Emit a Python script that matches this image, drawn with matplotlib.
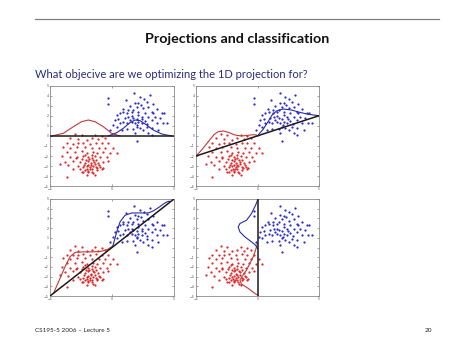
import matplotlib
matplotlib.use("Agg")
import matplotlib.pyplot as plt
import numpy as np

# ---- data ----
blue_x = [-0.30, -0.30, 1.80, 2.26, 2.58, 3.06, 1.13, 0.86, 1.85, 1.99, 1.45, 0.65, 0.91, 1.24,
          1.59, 2.12, 2.53, 2.93, 3.33, 3.60, 4.01, 4.19, 0.24, 0.51, 0.65, 0.91, 1.18, 1.45,
          1.72, 1.99, 2.12, 2.39, 2.66, 2.93, 3.20, 3.47, 3.87, 4.41, 0.11, 0.38, 0.78, 1.18,
          1.72, 1.99, 2.26, 2.53, 2.80, 3.20, 3.60, 3.74, -0.16, 1.85, 2.93, 3.20, 1.99, 1.59,
          1.85, 2.12, 2.39, 2.66, 1.32, 1.05, 3.33, 2.12, 2.31, 2.80, 3.20, 4.14, 0.38, 1.72,
          2.45, 1.60, 2.05, 2.85, 1.30]
blue_y = [3.77, 3.20, 4.27, 3.87, 3.67, 4.10, 3.60, 2.67, 3.33, 2.93, 3.00, 2.27, 2.43, 2.27,
          2.43, 2.43, 2.77, 2.93, 3.20, 2.67, 2.27, 2.33, 1.60, 1.67, 1.27, 1.43, 1.33, 1.60,
          1.77, 1.67, 1.43, 1.33, 1.53, 1.87, 1.60, 1.93, 1.77, 1.27, 1.10, 0.93, 0.60, 0.67,
          0.67, 0.93, 0.77, 0.60, 0.87, 0.77, 1.27, 0.60, 0.60, 0.27, 0.27, 0.10, -0.47, 1.43,
          1.27, 2.10, 1.93, 2.27, 1.93, 1.77, 2.27, 3.27, 3.10, 3.43, 2.43, 1.27, 2.10, 2.60,
          1.70, 1.95, 1.10, 1.20, 2.60]

red_x = [-2.98, -2.45, -1.37, -0.83, -3.39, -2.72, -2.04, -1.64, -1.10, -0.56, -3.66, -3.12,
         -2.31, -1.77, -1.29, -0.83, -0.30, -3.92, -3.39, -2.85, -2.18, -1.64, -1.02, -0.56,
         0.11, -3.66, -2.98, -2.45, -2.04, -1.56, -1.18, -0.70, -0.16, 0.38, -4.06, -3.39,
         -2.85, -2.31, -1.91, -1.64, -1.37, -0.97, -0.43, -3.79, -3.12, -2.58, -2.18, -1.91,
         -1.72, -1.45, -1.10, -0.70, -0.30, -4.19, -3.52, -2.72, -2.31, -2.04, -1.77, -1.56,
         -1.29, -0.97, -0.75, -2.18, -1.91, -1.64, -1.24, -0.83, -3.12, -2.45, -1.51, -2.04,
         -3.66, -1.37, -2.72, -2.10, -1.85, -1.50, -2.25, -1.95, -1.70, -1.40, -2.60, -2.00,
         -1.80, -1.20, -2.40, -1.65, -2.15, -1.05, -2.90, -1.90, -1.60, -2.35, -1.30]
red_y = [0.20, 0.10, 0.10, 0.00, -0.23, -0.33, -0.40, -0.23, -0.33, -0.23, -0.73, -0.80,
         -0.67, -0.80, -0.67, -0.73, -0.73, -1.07, -1.23, -1.13, -1.07, -1.23, -1.17, -1.23,
         -1.23, -1.57, -1.57, -1.47, -1.67, -1.57, -1.67, -1.57, -1.67, -1.73, -2.00, -2.07,
         -2.13, -2.00, -2.07, -2.23, -2.00, -2.13, -2.07, -2.57, -2.47, -2.57, -2.67, -2.47,
         -2.73, -2.57, -2.67, -2.57, -2.47, -2.80, -2.90, -3.00, -3.13, -3.00, -3.13, -3.00,
         -3.13, -3.07, -3.23, -3.40, -3.47, -3.33, -3.40, -3.33, -3.33, -3.57, -3.73, -3.90,
         -4.07, -3.90, -0.73, -2.35, -2.30, -2.40, -2.85, -2.90, -2.85, -2.80, -3.25, -3.25,
         -3.30, -3.20, -2.25, -1.90, -1.85, -2.90, -2.20, -3.60, -3.55, -3.55, -2.35]

# projection lines (endpoints in data units)
line1_x = [-5, 5]; line1_y = [0, 0]
line2_x = [-5, 5]; line2_y = [-2.0, 2.03]
line3_x = [-5, 5]; line3_y = [-5, 5]
line4_x = [0, 0]; line4_y = [-5, 5]

# projected density curves (data units)
p1_red_x = [-4.87, -3.92, -3.12, -2.45, -1.91, -1.37, -0.70, -0.03, 0.65]
p1_red_y = [0.0, 0.27, 0.93, 1.43, 1.60, 1.43, 0.93, 0.27, 0.0]
p1_blue_x = [-0.30, 0.38, 0.91, 1.45, 1.85, 2.26, 2.80, 3.33, 4.01, 4.81]
p1_blue_y = [0.0, 0.33, 0.77, 1.33, 1.60, 1.53, 1.10, 0.60, 0.20, 0.0]

p2_red_x = [-5.0, -4.54, -4.00, -3.51, -3.19, -2.78, -2.38, -1.84, -1.30, -0.76, -0.35, -0.08, 0.05]
p2_red_y = [-2.0, -1.40, -0.57, 0.17, 0.43, 0.50, 0.37, 0.10, 0.00, 0.07, 0.13, 0.10, 0.02]
p2_blue_x = [0.05, 0.11, 0.46, 0.86, 1.19, 1.54, 2.08, 2.76, 3.43, 4.11, 5.0]
p2_blue_y = [0.02, 0.17, 0.67, 1.43, 2.10, 2.50, 2.70, 2.60, 2.37, 2.17, 2.03]

p3_red_x = [-4.70, -4.60, -4.19, -3.79, -3.39, -2.98, -2.31, -1.51, -0.83, -0.38, -0.03]
p3_red_y = [-4.70, -4.38, -3.18, -1.99, -0.96, -0.51, -0.45, -0.45, -0.38, -0.21, 0.07]
p3_blue_x = [0.05, 0.11, 0.38, 0.65, 1.05, 1.59, 2.26, 2.93, 3.33, 3.74, 4.27, 4.54, 4.70]
p3_blue_y = [0.10, 0.34, 1.61, 2.64, 3.32, 3.56, 3.56, 3.56, 3.77, 4.11, 4.59, 4.76, 4.75]

p4_blue_x = [0.0, -0.16, -0.49, -0.89, -1.43, -1.57, -1.43, -1.03, -0.49, -0.16, 0.0]
p4_blue_y = [4.86, 4.35, 3.49, 2.81, 2.47, 2.12, 1.61, 1.10, 0.58, 0.24, -0.10]
p4_red_x = [0.0, -0.16, -0.35, -0.62, -0.89, -1.24, -1.43, -1.30, -0.76, -0.22, 0.0]
p4_red_y = [0.41, -0.27, -0.96, -1.64, -2.33, -2.95, -3.36, -3.77, -4.21, -4.73, -4.90]

x_ticks = [-5, 0, 5]
y_ticks = [-5, -4, -3, -2, -1, 0, 1, 2, 3, 4, 5]

title = "Projections and classification"
subtitle = "What objecive are we optimizing the 1D projection for?"
footer_left = "CS195-5 2006 \u2013 Lecture 5"
footer_right = "20"

# ---- figure ----
W, H = 474, 355
fig = plt.figure(figsize=(W / 100, H / 100), dpi=100)
fig.patch.set_facecolor("white")

def fx(px):
    return px / W

def fy(py):
    return 1 - py / H

# header rule
fig.add_artist(plt.Line2D([fx(35), fx(439)], [fy(19), fy(19)], color="#808080", lw=0.9))
fig.text(fx(237), fy(39), title, ha="center", va="center", fontsize=10.3,
         fontweight="bold", family="Lato", color="#111111")
fig.text(fx(35), fy(74), subtitle, ha="left", va="center", fontsize=8.0,
         family="Lato", color="#2b2b7a")
fig.text(fx(35), fy(331), footer_left, ha="left", va="center", fontsize=4.6,
         family="Lato", color="#222222")
fig.text(fx(432), fy(331), footer_right, ha="right", va="center", fontsize=4.6,
         family="Lato", color="#222222")

boxes = [(50, 86, 174, 186), (196, 86, 319, 186), (50, 199, 174, 296), (196, 199, 319, 296)]
lines = [(line1_x, line1_y), (line2_x, line2_y), (line3_x, line3_y), (line4_x, line4_y)]
curves = [((p1_red_x, p1_red_y), (p1_blue_x, p1_blue_y)),
          ((p2_red_x, p2_red_y), (p2_blue_x, p2_blue_y)),
          ((p3_red_x, p3_red_y), (p3_blue_x, p3_blue_y)),
          ((p4_red_x, p4_red_y), (p4_blue_x, p4_blue_y))]

for (l, t, r, b), (lx, ly), (rc, bc) in zip(boxes, lines, curves):
    ax = fig.add_axes([fx(l), fy(b), fx(r - l), (b - t) / H])
    ax.set_xlim(-5, 5)
    ax.set_ylim(-5, 5)
    ax.scatter(blue_x, blue_y, s=2.6, color="#2a2ad0", linewidths=0, zorder=3)
    ax.scatter(red_x, red_y, s=2.6, color="#e02828", linewidths=0, zorder=3)
    ax.plot(rc[0], rc[1], color="#c03a3a", lw=0.8, zorder=4)
    ax.plot(bc[0], bc[1], color="#2a2aa8", lw=0.8, zorder=4)
    ax.plot(lx, ly, color="#1a1a1a", lw=1.1, zorder=5)
    ax.set_xticks(x_ticks)
    ax.set_yticks(y_ticks)
    ax.tick_params(direction="in", length=1.2, width=0.4, labelsize=2.3,
                   colors="#555555", pad=1, top=True, right=True)
    for s in ax.spines.values():
        s.set_color("#8a8a8a")
        s.set_linewidth(0.6)

fig.savefig("out.png", dpi=100, facecolor="white")
